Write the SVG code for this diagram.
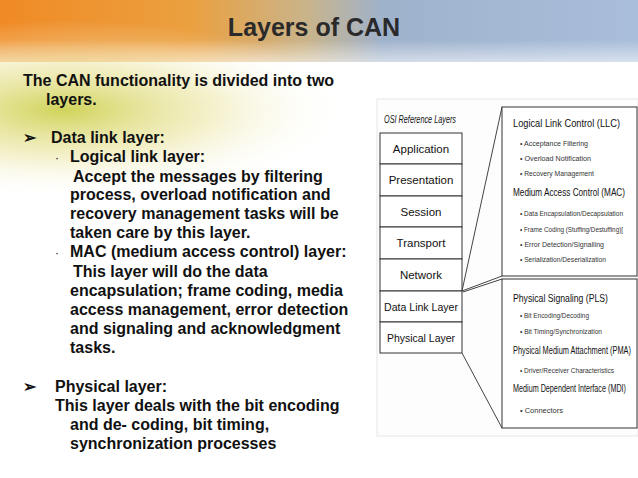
<svg xmlns="http://www.w3.org/2000/svg" width="638" height="478" viewBox="0 0 638 478">
<defs>
<linearGradient id="hg" x1="0" y1="0" x2="1" y2="0">
<stop offset="0" stop-color="#f08a24"/><stop offset="0.3" stop-color="#eba040"/><stop offset="0.48" stop-color="#c9b48a"/><stop offset="0.6" stop-color="#9fb2cc"/><stop offset="1" stop-color="#a9bedb"/>
</linearGradient>
<linearGradient id="fade" x1="0" y1="0" x2="0" y2="1">
<stop offset="0" stop-color="#fff" stop-opacity="0"/><stop offset="1" stop-color="#fff" stop-opacity="1"/>
</linearGradient>
<radialGradient id="gr" cx="0.1" cy="0.55" r="0.45"><stop offset="0" stop-color="#c4c830" stop-opacity="0.8"/><stop offset="0.5" stop-color="#e8e090" stop-opacity="0.5"/><stop offset="1" stop-color="#fff" stop-opacity="0"/></radialGradient>
</defs>
<style>
.t{font-family:"Liberation Sans",Arial,sans-serif;font-weight:bold;font-size:16px;fill:#111}
.b{fill:#fff;stroke:#333;stroke-width:1}
.o{font-family:"Liberation Sans",Arial,sans-serif;font-size:11.5px;fill:#111;text-anchor:middle}
.h{font-family:"Liberation Sans",Arial,sans-serif;font-size:10.5px;fill:#111}
.s{font-family:"Liberation Sans",Arial,sans-serif;font-size:8px;fill:#333}
.l{stroke:#444;stroke-width:1;fill:none}
</style>
<rect width="638" height="478" fill="#fff"/>
<rect width="638" height="62" fill="url(#hg)"/>
<rect y="40" width="638" height="40" fill="url(#fade)"/>
<rect x="0" y="0" width="638" height="200" fill="url(#gr)"/>
<text x="314" y="36" text-anchor="middle" style="font-family:'Liberation Sans',Arial,sans-serif;font-weight:bold;font-size:25px;fill:#2a2a2a">Layers of CAN</text>
<g id="text">
<text class="t" x="23" y="86">The CAN functionality is divided into two</text>
<text class="t" x="46" y="105">layers.</text>
<text class="t" x="23" y="143">➢</text><text class="t" x="51" y="143">Data link layer:</text>
<text class="t" x="55" y="162" style="font-weight:normal;font-size:12px">·</text><text class="t" x="70" y="162">Logical link layer:</text>
<text class="t" x="73" y="182">Accept the messages by filtering</text>
<text class="t" x="70" y="200">process, overload notification and</text>
<text class="t" x="70" y="219">recovery management tasks will be</text>
<text class="t" x="70" y="238">taken care by this layer.</text>
<text class="t" x="55" y="257" style="font-weight:normal;font-size:12px">·</text><text class="t" x="70" y="257">MAC (medium access control) layer:</text>
<text class="t" x="73" y="277">This layer will do the data</text>
<text class="t" x="70" y="296">encapsulation; frame coding, media</text>
<text class="t" x="70" y="315">access management, error detection</text>
<text class="t" x="70" y="334">and signaling and acknowledgment</text>
<text class="t" x="70" y="353">tasks.</text>
<text class="t" x="23" y="392">➢</text><text class="t" x="55" y="392">Physical layer:</text>
<text class="t" x="55" y="411">This layer deals with the bit encoding</text>
<text class="t" x="70" y="430">and de- coding, bit timing,</text>
<text class="t" x="70" y="449">synchronization processes</text>
</g>
<rect x="377" y="99" width="261" height="337" fill="#fdfdfd" stroke="#e6e6e6"/>
<text x="384" y="123" textLength="72" lengthAdjust="spacingAndGlyphs" style="font-family:'Liberation Sans',Arial,sans-serif;font-style:italic;font-size:10px;fill:#111">OSI Reference Layers</text>
<g id="osi">
<rect class="b" x="380" y="133" width="82" height="31"/><text class="o" x="421" y="153">Application</text>
<rect class="b" x="380" y="164" width="82" height="32"/><text class="o" x="421" y="184">Presentation</text>
<rect class="b" x="380" y="196" width="82" height="31"/><text class="o" x="421" y="216">Session</text>
<rect class="b" x="380" y="227" width="82" height="32"/><text class="o" x="421" y="247">Transport</text>
<rect class="b" x="380" y="259" width="82" height="32"/><text class="o" x="421" y="279">Network</text>
<rect class="b" x="380" y="291" width="82" height="31"/><text class="o" x="421" y="311" textLength="74" lengthAdjust="spacingAndGlyphs">Data Link Layer</text>
<rect class="b" x="380" y="322" width="82" height="31"/><text class="o" x="421" y="342" textLength="68" lengthAdjust="spacingAndGlyphs">Physical Layer</text>
</g>
<g id="connectors">
<line class="l" x1="462" y1="291" x2="502" y2="107"/>
<line class="l" x1="462" y1="291" x2="502" y2="276"/>
<line class="l" x1="463" y1="292" x2="502" y2="279"/>
<line class="l" x1="462" y1="353" x2="502" y2="428"/>
</g>
<g id="dll">
<rect class="b" x="502" y="107" width="135" height="169"/>
<text class="h" x="513" y="127" textLength="107" lengthAdjust="spacingAndGlyphs">Logical Link Control (LLC)</text>
<text class="s" x="520" y="146" textLength="68" lengthAdjust="spacingAndGlyphs">•   Acceptance Filtering</text>
<text class="s" x="520" y="161" textLength="71" lengthAdjust="spacingAndGlyphs">•   Overload Notification</text>
<text class="s" x="520" y="176" textLength="74" lengthAdjust="spacingAndGlyphs">•   Recovery Management</text>
<text class="h" x="513" y="196" textLength="112" lengthAdjust="spacingAndGlyphs">Medium Access Control (MAC)</text>
<text class="s" x="520" y="216" textLength="103" lengthAdjust="spacingAndGlyphs">•   Data Encapsulation/Decapsulation</text>
<text class="s" x="520" y="232" textLength="103" lengthAdjust="spacingAndGlyphs">•   Frame Coding (Stuffing/Destuffing)[</text>
<text class="s" x="520" y="247" textLength="84" lengthAdjust="spacingAndGlyphs">•   Error Detection/Signalling</text>
<text class="s" x="520" y="262" textLength="86" lengthAdjust="spacingAndGlyphs">•   Serialization/Deserialization</text>
</g>
<g id="phy">
<rect class="b" x="502" y="279" width="135" height="149"/>
<text class="h" x="513" y="302" textLength="95" lengthAdjust="spacingAndGlyphs">Physical Signaling (PLS)</text>
<text class="s" x="520" y="318" textLength="69" lengthAdjust="spacingAndGlyphs">•   Bit Encoding/Decoding</text>
<text class="s" x="520" y="334" textLength="82" lengthAdjust="spacingAndGlyphs">•   Bit Timing/Synchronization</text>
<text class="h" x="513" y="354" textLength="118" lengthAdjust="spacingAndGlyphs">Physical Medium Attachment (PMA)</text>
<text class="s" x="520" y="373" textLength="94" lengthAdjust="spacingAndGlyphs">•   Driver/Receiver Characteristics</text>
<text class="h" x="513" y="392" textLength="113" lengthAdjust="spacingAndGlyphs">Medium Dependent Interface (MDI)</text>
<text class="s" x="520" y="413" textLength="43" lengthAdjust="spacingAndGlyphs">•   Connectors</text>
</g>
</svg>
